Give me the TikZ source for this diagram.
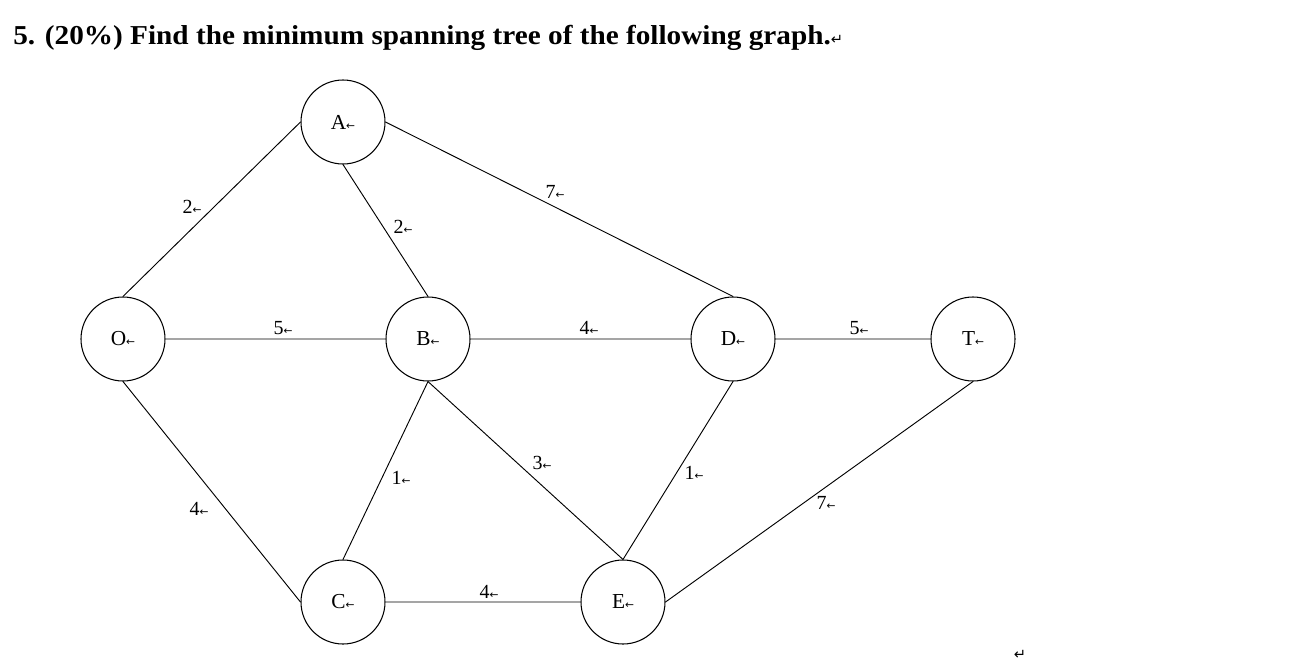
\documentclass[tikz,border=0pt]{standalone}
\usepackage{fontspec}
\usepackage{graphicx}
\setmainfont{Liberation Serif}
\newfontfamily\dv{DejaVu Sans}
\newcommand{\mk}{{\dv\fontsize{8pt}{8pt}\selectfont ←}}
\begin{document}
\begin{tikzpicture}[x=0.75pt,y=-0.75pt,
  vtx/.style={circle,draw,line width=0.8pt,minimum size=63pt,inner sep=0pt,font=\fontsize{16pt}{16pt}\selectfont},
  wt/.style={font=\fontsize{15pt}{15pt}\selectfont,inner sep=1pt},
  edge/.style={line width=0.7pt}]
\useasboundingbox (0,0) rectangle (1290,668);
\node[anchor=west,font=\bfseries\fontsize{20.5pt}{21pt}\selectfont,inner sep=0pt] (title) at (13,38) {\scalebox{1.07}[1]{5. (20\%) Find the minimum spanning tree of the following graph.}{\dv\mdseries\fontsize{11pt}{11pt}\selectfont ↵}};
\node[vtx] (A) at (343,122) {A\mk};
\node[vtx] (O) at (123,339) {O\mk};
\node[vtx] (B) at (428,339) {B\mk};
\node[vtx] (D) at (733,339) {D\mk};
\node[vtx] (T) at (973,339) {T\mk};
\node[vtx] (C) at (343,602) {C\mk};
\node[vtx] (E) at (623,602) {E\mk};
\draw[edge] (O.north)--(A.west) (A.south)--(B.north) (A.east)--(D.north) (O.east)--(B.west)
  (B.east)--(D.west) (D.east)--(T.west) (O.south)--(C.west) (B.south)--(C.north)
  (B.south)--(E.north) (D.south)--(E.north) (T.south)--(E.east) (C.east)--(E.west);
\node[wt] (w1) at (192,207) {2\mk};
\node[wt] (w2) at (403,227) {2\mk};
\node[wt] (w3) at (555,192) {7\mk};
\node[wt] (w4) at (283,328) {5\mk};
\node[wt] (w5) at (589,328) {4\mk};
\node[wt] (w6) at (859,328) {5\mk};
\node[wt] (w7) at (199,509) {4\mk};
\node[wt] (w8) at (401,478) {1\mk};
\node[wt] (w9) at (542,463) {3\mk};
\node[wt] (w10) at (694,473) {1\mk};
\node[wt] (w11) at (826,503) {7\mk};
\node[wt] (w12) at (489,592) {4\mk};
\node[font=\dv\fontsize{11pt}{11pt}\selectfont] (pm) at (1020,655) {↵};
\end{tikzpicture}
\end{document}
